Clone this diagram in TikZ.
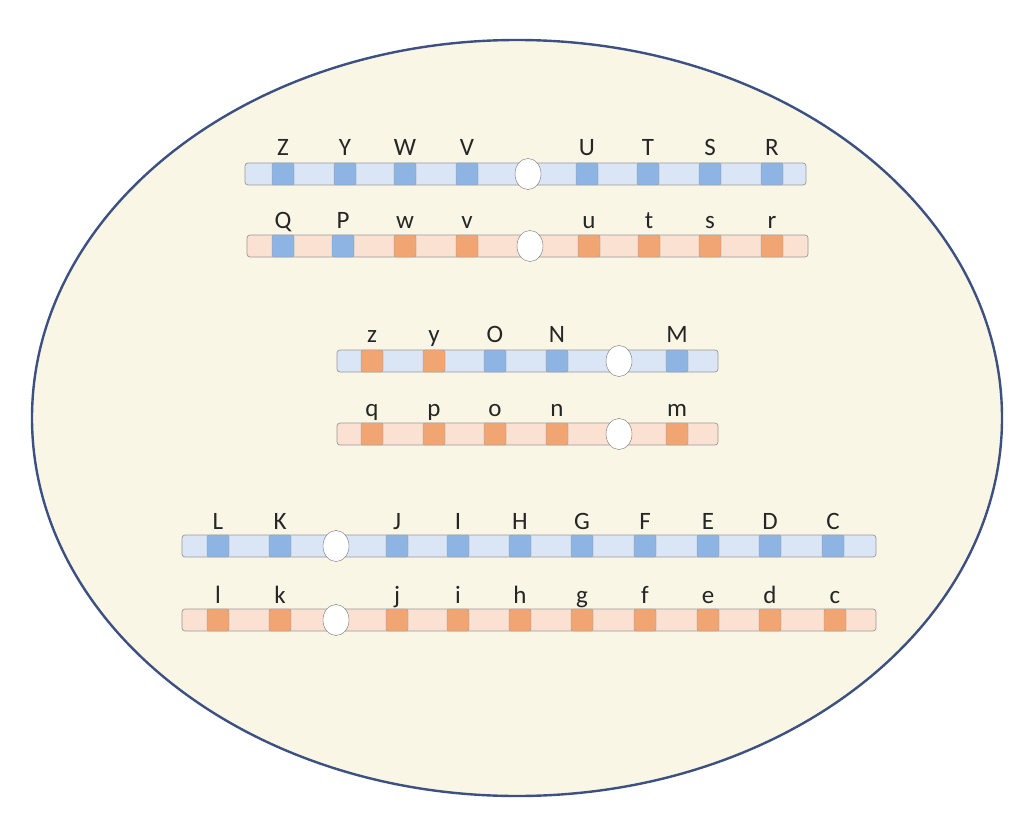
\documentclass[tikz,border=0pt]{standalone}
\usetikzlibrary{shapes.geometric}
\usepackage{fontspec}
\setmainfont{Carlito}
\begin{document}
\begin{tikzpicture}[x=1pt,y=-1pt,
  bbar/.style={draw=black!40,fill={rgb,255:red,218;green,230;blue,246},rounded corners=3pt,line width=0.7pt},
  obar/.style={draw=black!40,fill={rgb,255:red,250;green,225;blue,210},rounded corners=3pt,line width=0.7pt},
  bsq/.style={draw=black!40,fill={rgb,255:red,141;green,180;blue,226},rounded corners=2pt,minimum size=22pt,inner sep=0pt},
  osq/.style={draw=black!40,fill={rgb,255:red,240;green,165;blue,115},rounded corners=2pt,minimum size=22pt,inner sep=0pt},
  cen/.style={draw=black!55,fill=white,ellipse,minimum width=26pt,minimum height=31pt,inner sep=0pt},
  lab/.style={font=\fontsize{25}{25}\selectfont,inner sep=0pt,text=black!85}]
\useasboundingbox (0,0) rectangle (1024,826);
\fill[white] (0,0) rectangle (1024,826);
\draw[line width=2.4pt,draw={rgb,255:red,60;green,80;blue,130},fill={rgb,255:red,250;green,246;blue,230}] (517,418) ellipse [x radius=485,y radius=378];
\newcommand{\chrom}[9]{%
  \draw[#1] (#2,#4-11) rectangle (#3,#4+11);
  \foreach \xx/\st/\lb [count=\i] in {#6} {
    \node[\st] (#7s\i) at (\xx,#4) {};
    \node[lab,anchor=base] (#7l\i) at (\xx,#8) {\lb};
  }
  \node[cen] (#7c) at (#5,#4) {};
}
\chrom{bbar}{245}{806}{174}{528}{283/bsq/Z,345/bsq/Y,405/bsq/W,467/bsq/V,587/bsq/U,648/bsq/T,710/bsq/S,772/bsq/R}{a}{156}{}
\chrom{obar}{247}{808}{246}{530}{283/bsq/Q,343/bsq/P,405/osq/w,467/osq/v,589/osq/u,649/osq/t,710/osq/s,772/osq/r}{b}{229}{}
\chrom{bbar}{337}{718}{361}{619}{372/osq/z,434/osq/y,495/bsq/O,557/bsq/N,677/bsq/M}{c}{342}{}
\chrom{obar}{337}{718}{434}{619}{372/osq/q,434/osq/p,495/osq/o,557/osq/n,677/osq/m}{d}{416}{}
\chrom{bbar}{182}{876}{546}{336}{218/bsq/L,280/bsq/K,397/bsq/J,458/bsq/I,520/bsq/H,582/bsq/G,645/bsq/F,708/bsq/E,770/bsq/D,833/bsq/C}{e}{529}{}
\chrom{obar}{182}{876}{620}{336}{218/osq/l,280/osq/k,397/osq/j,458/osq/i,520/osq/h,582/osq/g,645/osq/f,708/osq/e,770/osq/d,835/osq/c}{f}{603}{}
\end{tikzpicture}
\end{document}
